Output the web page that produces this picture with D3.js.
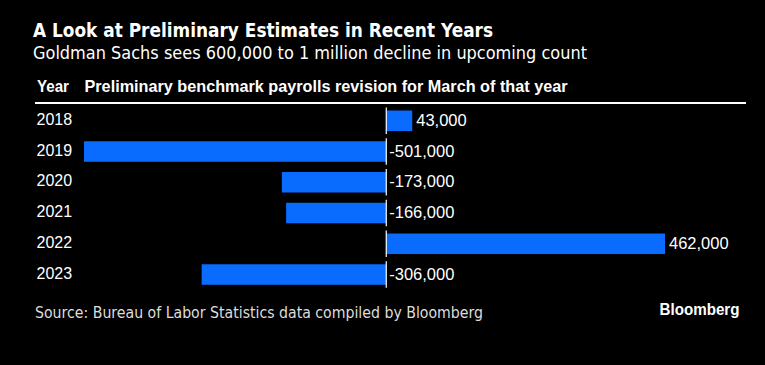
<!DOCTYPE html>
<html>
<head>
<meta charset="utf-8">
<script src="https://cdn.jsdelivr.net/npm/d3@7"></script>
<style>
  body { margin: 0; background: #000; }
  svg { display: block; }
  .cond { font-family: "DejaVu Sans Condensed", "DejaVu Sans"; font-stretch: condensed; }
  .dv { font-family: "DejaVu Sans", sans-serif; }
  .sans { font-family: "Liberation Sans", Arial, sans-serif; }
</style>
</head>
<body>
<div id="chart"></div>
<script>
let years = ["2018", "2019", "2020", "2021", "2022", "2023"]
let revisions = [43000, -501000, -173000, -166000, 462000, -306000]

let title = "A Look at Preliminary Estimates in Recent Years"
let subtitle = "Goldman Sachs sees 600,000 to 1 million decline in upcoming count"
let source = "Source: Bureau of Labor Statistics data compiled by Bloomberg"

let width = 765, height = 365

let svg = d3.select('#chart').append('svg')
    .attr("width", width)
    .attr("height", height)

svg.append("rect").attr("width", width).attr("height", height).attr("fill", "#000")

let x = d3.scaleLinear().domain([-501000, 462000]).range([84, 665])
let y = d3.scaleBand().domain(years).range([105.4, 289.9]).paddingInner(0.333).paddingOuter(0.1665)

// plain hyphen for negatives, like the original
let fmt = d3.formatLocale({decimal: ".", thousands: ",", grouping: [3], currency: ["$", ""], minus: "-"}).format(",")

// header
svg.append("text").attr("class", "dv")
    .attr("x", 33).attr("y", 36.5)
    .attr("fill", "#fff").attr("font-size", 19.5).attr("font-weight", "bold")
    .attr("textLength", 460).attr("lengthAdjust", "spacingAndGlyphs")
    .text(title)

svg.append("text").attr("class", "cond")
    .attr("x", 33).attr("y", 59)
    .attr("fill", "#fff").attr("font-size", 17.5)
    .attr("textLength", 554).attr("lengthAdjust", "spacingAndGlyphs")
    .text(subtitle)

svg.append("text").attr("class", "sans")
    .attr("x", 37).attr("y", 91.5)
    .attr("fill", "#fff").attr("font-size", 17).attr("font-weight", "bold")
    .attr("textLength", 32).attr("lengthAdjust", "spacingAndGlyphs")
    .text("Year")

svg.append("text").attr("class", "sans")
    .attr("x", 84.5).attr("y", 91.5)
    .attr("fill", "#fff").attr("font-size", 17).attr("font-weight", "bold")
    .attr("textLength", 483).attr("lengthAdjust", "spacingAndGlyphs")
    .text("Preliminary benchmark payrolls revision for March of that year")

svg.append("line")
    .attr("x1", 35).attr("x2", 746).attr("y1", 103).attr("y2", 103)
    .attr("stroke", "#fff").attr("stroke-width", 2)

let rows = svg.selectAll("g.row")
    .data(years.map((d, i) => ({year: d, value: revisions[i]})))
  .enter().append("g")
    .attr("class", "row")

rows.append("rect")
    .attr("x", d => x(Math.min(0, d.value)))
    .attr("y", d => y(d.year))
    .attr("width", d => Math.abs(x(d.value) - x(0)))
    .attr("height", y.bandwidth())
    .attr("fill", "#0a6cff")

// zero line, one piece per row
rows.append("line")
    .attr("x1", x(0)).attr("x2", x(0))
    .attr("y1", d => y(d.year) - 3)
    .attr("y2", d => y(d.year) + y.bandwidth() + 3)
    .attr("stroke", "#fff").attr("stroke-width", 1.2)

rows.append("text").attr("class", "sans")
    .attr("x", 36.5)
    .attr("y", d => y(d.year) + y.bandwidth() / 2 + 4)
    .attr("fill", "#fff").attr("font-size", 16)
    .text(d => d.year)

rows.append("text").attr("class", "sans")
    .attr("x", d => d.value > 0 ? x(d.value) + 4 : x(0) + 3)
    .attr("y", d => y(d.year) + y.bandwidth() / 2 + 5)
    .attr("fill", "#fff").attr("font-size", 16.5)
    .text(d => fmt(d.value))

svg.append("text").attr("class", "cond")
    .attr("x", 35).attr("y", 317.5)
    .attr("fill", "#ddd").attr("font-size", 15.5)
    .attr("textLength", 448).attr("lengthAdjust", "spacingAndGlyphs")
    .text(source)

svg.append("text").attr("class", "sans")
    .attr("x", 739.5).attr("y", 315)
    .attr("text-anchor", "end")
    .attr("fill", "#fff").attr("font-size", 17).attr("font-weight", "bold")
    .attr("textLength", 80).attr("lengthAdjust", "spacingAndGlyphs")
    .text("Bloomberg")
</script>
</body>
</html>
